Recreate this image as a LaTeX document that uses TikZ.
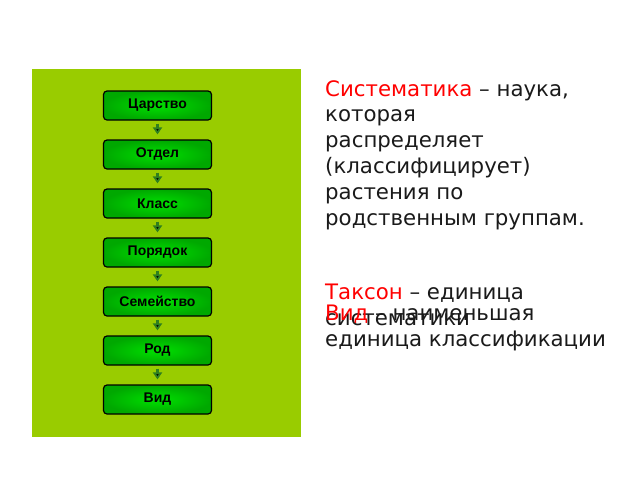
\documentclass[tikz,border=0pt]{standalone}
\usepackage{fontspec}
\setmainfont{DejaVu Sans}
\newfontfamily\boxfont{Liberation Sans}
\usetikzlibrary{arrows.meta}
\definecolor{panelgreen}{HTML}{99CC00}
\definecolor{arrowgreen}{HTML}{2F7F1F}
\definecolor{textgray}{HTML}{1A1A1A}

\begin{document}
\begin{tikzpicture}[x=1pt, y=-1pt,
  taxon/.style={draw=black, line width=1.2pt, rounded corners=3.5pt, minimum width=108pt, minimum height=29pt, shading=radial, inner color={rgb,255:red,0;green,224;blue,0}, outer color={rgb,255:red,0;green,168;blue,0}, font=\boxfont\bfseries\fontsize{14}{16}\selectfont},
  down/.style={-{Triangle[width=9pt,length=7pt]}, line width=3.6pt, draw=arrowgreen, shorten <=3pt, shorten >=5pt},
  para/.style={anchor=base west, align=left, inner sep=0pt, text=textgray, font=\fontsize{21.3}{25.8}\selectfont}]
\useasboundingbox (0,0) rectangle (640,480);
\fill[white] (0,0) rectangle (640,480);
\fill[panelgreen] (32,69) rectangle (301,437);
\node[taxon] (T1) at (157.5,105.5) {Царство};
\node[taxon] (T2) at (157.5,154.5) {Отдел};
\node[taxon] (T3) at (157.5,203.5) {Класс};
\node[taxon] (T4) at (157.5,252.5) {Порядок};
\node[taxon] (T5) at (157.5,301.5) {Семейство};
\node[taxon] (T6) at (157.5,350.5) {Род};
\node[taxon] (T7) at (157.5,399.5) {Вид};
\path[down] (T1) edge (T2);
\path[down] (T2) edge (T3);
\path[down] (T3) edge (T4);
\path[down] (T4) edge (T5);
\path[down] (T5) edge (T6);
\path[down] (T6) edge (T7);
\node[para] (sys) at (325,225) {\textcolor{red}{Систематика} – наука,\\которая\\распределяет\\(классифицирует)\\растения по\\родственным группам.};
\node[para] (tax) at (325,325.5) {\textcolor{red}{Таксон} – единица\\систематики};
\node[para] (vid) at (325,346) {\textcolor{red}{Вид} – наименьшая\\единица классификации};
\end{tikzpicture}
\end{document}
